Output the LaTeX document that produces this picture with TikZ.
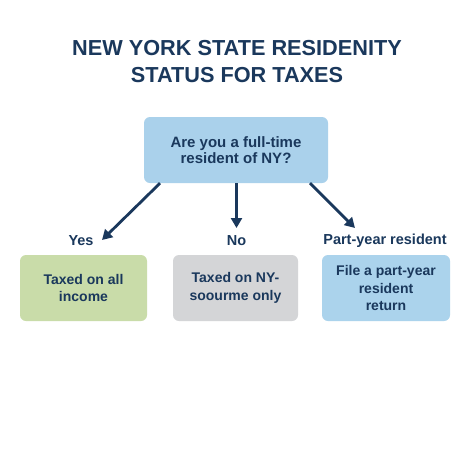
\documentclass[tikz,border=0pt]{standalone}
\usepackage{fontspec}
\setmainfont{Liberation Sans}
\usetikzlibrary{arrows.meta}
\definecolor{navy}{HTML}{1A385C}
\definecolor{qblue}{HTML}{AAD1EB}
\definecolor{gfill}{HTML}{C9DCA9}
\definecolor{grfill}{HTML}{D4D5D7}
\definecolor{bfill}{HTML}{ABD3EC}
\tikzset{
  box/.style={rounded corners=6pt, minimum height=66pt, align=center, text=navy,
    font=\fontsize{14pt}{17.5pt}\selectfont\bfseries, inner sep=0pt},
  lab/.style={text=navy, font=\fontsize{14.5pt}{17pt}\selectfont\bfseries, inner sep=0pt},
  arr/.style={draw=navy, line width=2.8pt, -{Triangle[length=10pt,width=11pt]}},
}
\begin{document}
\begin{tikzpicture}[x=1pt,y=-1pt]
\useasboundingbox[fill=white] (0,0) rectangle (474,474);
\node[text=navy, align=center, font=\fontsize{21.7pt}{27pt}\selectfont\bfseries, inner sep=0pt] (title) at (237,61.5) {NEW YORK STATE RESIDENITY\\STATUS FOR TAXES};
\node[box, fill=qblue, minimum width=184pt, font=\fontsize{15pt}{16.7pt}\selectfont\bfseries] (q) at (236,150) {Are you a full-time\\resident of NY?};
\node[lab] (yes) at (81,241) {Yes};
\node[lab] (no) at (236.5,241) {No};
\node[lab] (part) at (385,241) {Part-year resident};
\node[box, fill=gfill, minimum width=127pt] (all) at (83.5,288) {Taxed on all\\income};
\node[box, fill=grfill, minimum width=125pt] (src) at (235.5,288) {Taxed on NY-\\soourme only};
\node[box, fill=bfill, minimum width=128pt] (file) at (386,288) {File a part-year\\resident\\return};
\coordinate (qa) at ([xshift=-76pt]q.south);
\coordinate (qc) at ([xshift=74pt]q.south);
\coordinate (ya) at ([xshift=21pt,yshift=1pt]yes.center);
\coordinate (na) at ([yshift=13pt]no.center);
\coordinate (pa) at ([xshift=-30pt,yshift=13pt]part.center);
\draw[arr] (qa) -- (ya);
\draw[arr] (q.south -| na) -- (na);
\draw[arr] (qc) -- (pa);
\end{tikzpicture}
\end{document}
